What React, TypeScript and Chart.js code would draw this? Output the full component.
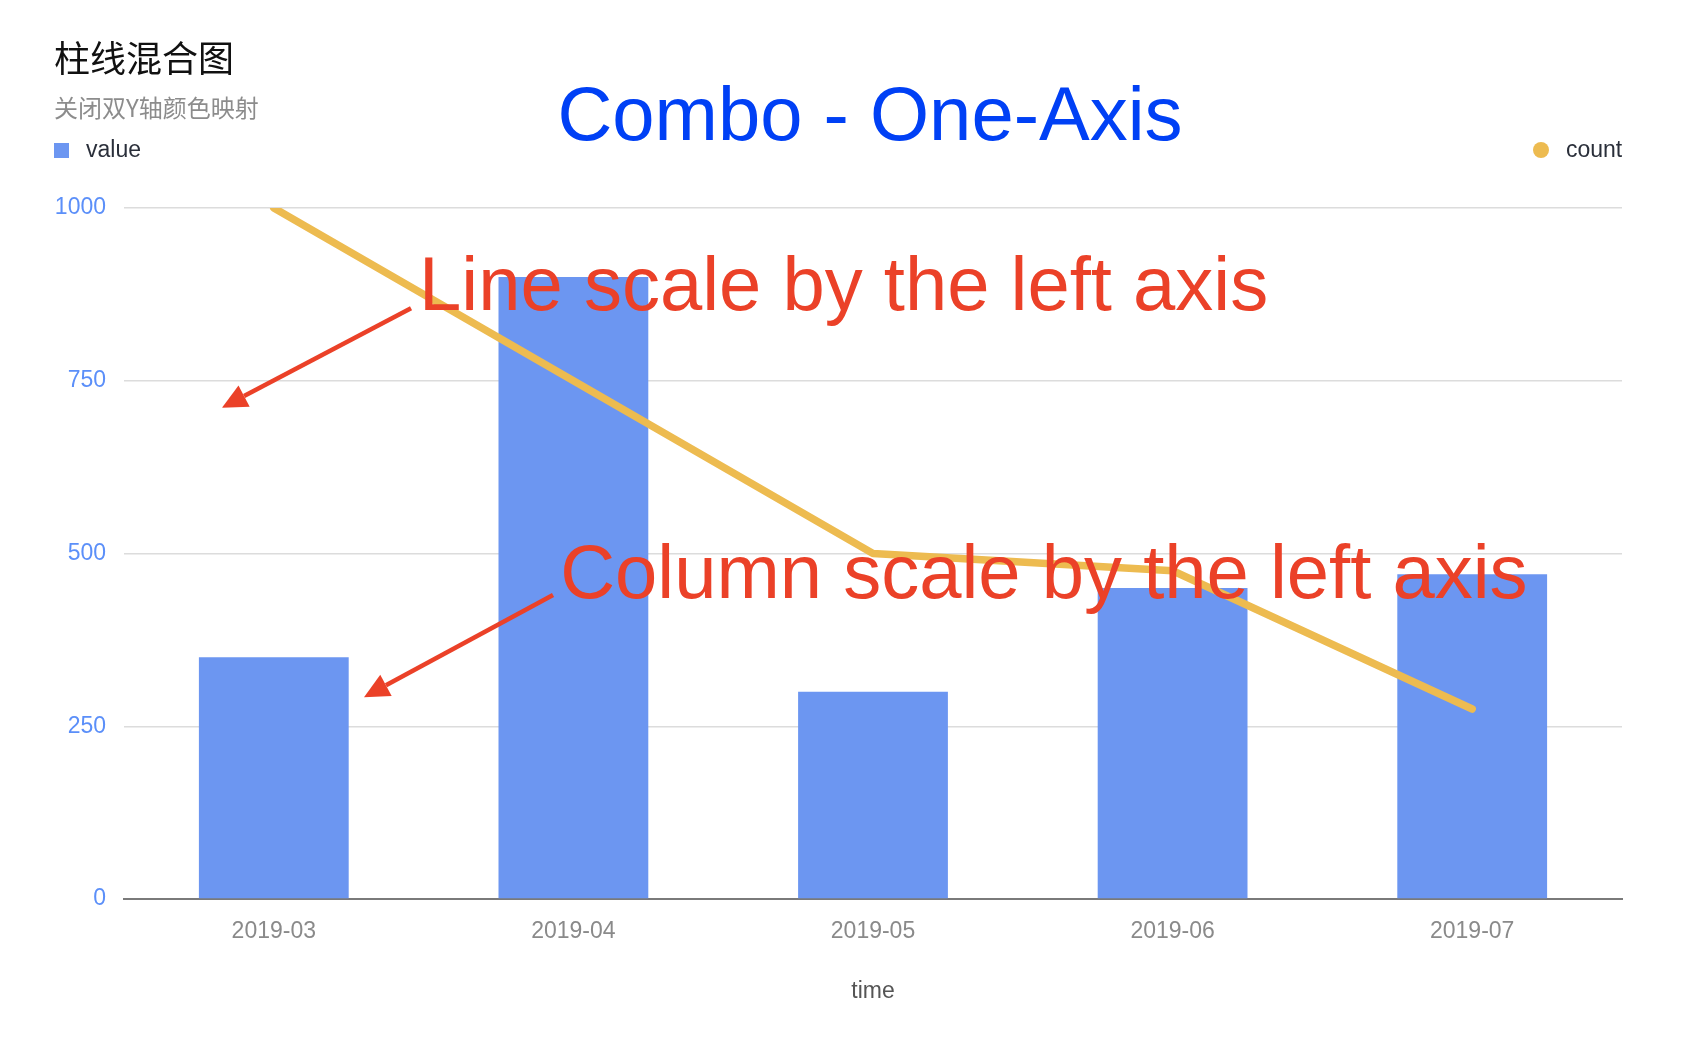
import { useEffect, useRef } from 'react';
import { Chart, registerables } from 'chart.js';

Chart.register(...registerables);

const months = ['2019-03', '2019-04', '2019-05', '2019-06', '2019-07'];
const valueSeries = [350, 900, 300, 450, 470];
const countSeries = [1000, 750, 500, 475, 275];
const yTicks = [0, 250, 500, 750, 1000];

// callouts, anchored in data space: [category index, value]
const notes = [
  { text: 'Line scale by the left axis', at: [0.485, 852], from: [0.458, 855], to: [-0.173, 711] },
  { text: 'Column scale by the left axis', at: [0.956, 436], from: [0.932, 440], to: [0.301, 292] },
];

const SANS = '"Liberation Sans", Arial, "Noto Sans CJK SC", sans-serif';
const CJK = '"Noto Sans CJK SC", "Liberation Sans", sans-serif';
const BAR = '#6C96F1';
const LINE = '#EDBB50';
const RED = '#EB4128';

function drawArrow(ctx: CanvasRenderingContext2D, x1: number, y1: number, x2: number, y2: number) {
  const ang = Math.atan2(y2 - y1, x2 - x1);
  const head = 25;
  const half = 12;
  const bx = x2 - head * Math.cos(ang);
  const by = y2 - head * Math.sin(ang);
  ctx.beginPath();
  ctx.moveTo(x1, y1);
  ctx.lineTo(bx, by);
  ctx.stroke();
  ctx.beginPath();
  ctx.moveTo(x2, y2);
  ctx.lineTo(bx + half * Math.sin(ang), by - half * Math.cos(ang));
  ctx.lineTo(bx - half * Math.sin(ang), by + half * Math.cos(ang));
  ctx.closePath();
  ctx.fill();
}

const overlay = {
  id: 'overlay',
  afterDraw(chart: Chart) {
    const { ctx, chartArea } = chart;
    const xs = chart.scales.x;
    const ys = chart.scales.y;
    ctx.save();

    // header
    ctx.textBaseline = 'middle';
    ctx.textAlign = 'left';
    ctx.fillStyle = '#111';
    ctx.font = `36px ${CJK}`;
    ctx.fillText('柱线混合图', 54, 58);
    ctx.fillStyle = '#8c8c8c';
    ctx.font = `24px ${CJK}`;
    ctx.fillText('关闭双Y轴颜色映射', 54, 108);

    // legends
    ctx.fillStyle = BAR;
    ctx.fillRect(54, 143, 15, 15);
    ctx.fillStyle = '#2a2f3a';
    ctx.font = `23px ${SANS}`;
    ctx.fillText('value', 86, 151);
    ctx.fillStyle = LINE;
    ctx.beginPath();
    ctx.arc(1541, 150, 8, 0, Math.PI * 2);
    ctx.fill();
    ctx.fillStyle = '#2a2f3a';
    ctx.fillText('count', 1566, 151);

    // big title
    ctx.textAlign = 'center';
    ctx.textBaseline = 'alphabetic';
    ctx.fillStyle = '#0040F5';
    ctx.font = `76px ${SANS}`;
    ctx.fillText('Combo - One-Axis', (chartArea.left + chartArea.right) / 2 - 3, 140);

    // callouts
    ctx.textAlign = 'left';
    ctx.fillStyle = RED;
    ctx.strokeStyle = RED;
    ctx.lineWidth = 4.5;
    ctx.font = `76px ${SANS}`;
    notes.forEach((n) => {
      ctx.fillText(n.text, xs.getPixelForValue(n.at[0]), ys.getPixelForValue(n.at[1]));
      drawArrow(
        ctx,
        xs.getPixelForValue(n.from[0]),
        ys.getPixelForValue(n.from[1]),
        xs.getPixelForValue(n.to[0]),
        ys.getPixelForValue(n.to[1])
      );
    });
    ctx.restore();
  },
};

export default function App() {
  const chartRef = useRef<HTMLCanvasElement>(null);
  const chartInstance = useRef<Chart | null>(null);

  useEffect(() => {
    if (!chartRef.current) return;
    const ctx = chartRef.current.getContext('2d');
    if (!ctx) return;
    if (chartInstance.current) chartInstance.current.destroy();

    chartInstance.current = new Chart(ctx, {
      type: 'bar',
      data: {
        labels: months,
        datasets: [
          {
            type: 'line',
            label: 'count',
            data: countSeries,
            borderColor: LINE,
            backgroundColor: LINE,
            borderWidth: 7.5,
            borderCapStyle: 'round',
            borderJoinStyle: 'round',
            pointRadius: 0,
            tension: 0,
            order: 0,
          },
          {
            type: 'bar',
            label: 'value',
            data: valueSeries,
            backgroundColor: BAR,
            categoryPercentage: 1,
            barPercentage: 0.5,
            order: 1,
          },
        ],
      },
      options: {
        responsive: false,
        animation: false,
        layout: { padding: { top: 208, right: 68, bottom: 0, left: 0 } },
        plugins: {
          legend: { display: false },
          title: { display: false },
          tooltip: { enabled: false },
        },
        scales: {
          x: {
            grid: { display: false },
            border: { display: true, color: '#7a7a7a', width: 2 },
            ticks: { color: '#8a8a8a', padding: 11, font: { family: SANS, size: 23 } },
            title: {
              display: true,
              text: 'time',
              color: '#555',
              font: { family: SANS, size: 23 },
              padding: { top: 0, bottom: 55 },
            },
            afterFit: (s: any) => {
              s.height = 161;
            },
          },
          y: {
            min: 0,
            max: 1000,
            afterBuildTicks: (s: any) => {
              s.ticks = yTicks.map((v) => ({ value: v }));
            },
            grid: {
              drawTicks: false,
              color: (c: any) => (c.tick && c.tick.value === 0 ? 'rgba(0,0,0,0)' : '#dcdcdc'),
              lineWidth: 1.5,
            },
            border: { display: false },
            ticks: {
              color: '#5B8FF9',
              padding: 18,
              font: { family: SANS, size: 23 },
              callback: (v: any) => String(v),
            },
            afterFit: (s: any) => {
              s.width = 124;
            },
          },
        },
      },
      plugins: [overlay],
    });

    return () => {
      if (chartInstance.current) {
        chartInstance.current.destroy();
        chartInstance.current = null;
      }
    };
  }, []);

  return (
    <div style={{ position: 'absolute', left: 0, top: 0, width: 1690, height: 1060, background: '#fff' }}>
      <canvas ref={chartRef} width={1690} height={1060}></canvas>
    </div>
  );
}
